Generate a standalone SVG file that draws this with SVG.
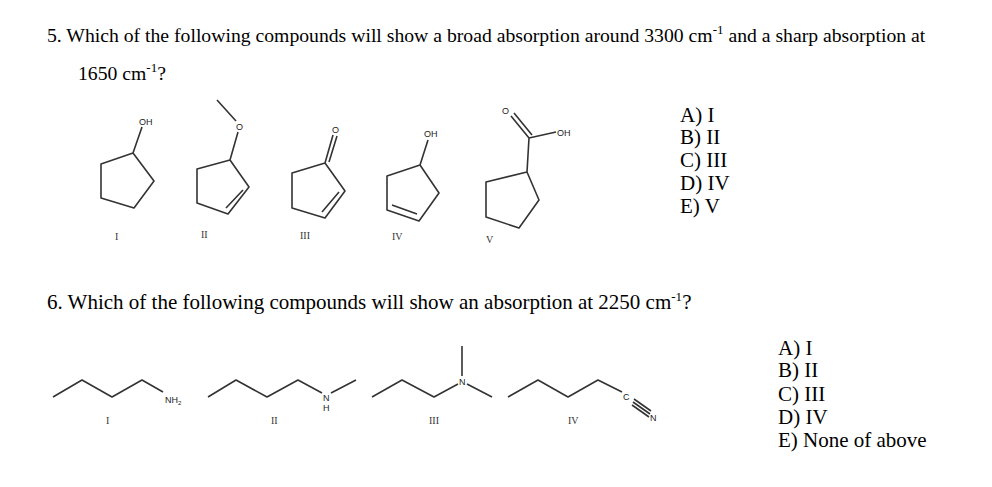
<svg xmlns="http://www.w3.org/2000/svg" width="992" height="487" viewBox="0 0 992 487">
<style>
.q{font-family:"Liberation Serif",serif;font-size:19.7px;fill:#000}
.r{font-family:"Liberation Serif",serif;font-size:21px;fill:#000}
.s{font-family:"Liberation Serif",serif;font-size:13px}
.l{font-family:"Liberation Serif",serif;font-size:10px;fill:#333}
.a{font-family:"Liberation Sans",sans-serif;font-size:9px;fill:#222}
.b{fill:none;stroke:#333;stroke-width:1.6;stroke-linejoin:round}
</style>
<rect width="992" height="487" fill="#fff"/>
<text class="q" x="47" y="42">5. Which of the following compounds will show a broad absorption around 3300 cm<tspan class="s" dy="-8">-1</tspan><tspan dy="8"> and a sharp absorption at</tspan></text>
<text class="q" x="78" y="80">1650 cm<tspan class="s" dy="-8">-1</tspan><tspan dy="8">?</tspan></text>
<g class="r"><text x="680" y="122">A) I</text><text x="680" y="144">B) II</text><text x="680" y="167">C) III</text><text x="680" y="190">D) IV</text><text x="680" y="213">E) V</text></g>
<g id="m5-1"><path class="b" d="M133,153 L154,181 L134,208 L101,198 L101,164 Z M133,153 L142,127"/><text class="a" x="139" y="125">OH</text><text class="l" x="115" y="240">I</text></g>
<g id="m5-2"><path class="b" d="M230,160 L249,187 L228,214 L197,203 L197,169 Z M243,190 L226,208 M230,160 L238,132 M236,121 L217,100"/><text class="a" x="236" y="130">O</text><text class="l" x="201" y="238">II</text></g>
<g id="m5-3"><path class="b" d="M325,163 L345,191 L325,218 L292,208 L292,173 Z M339,192 L322,212 M325,163 L333,135 M329,162 L337,136"/><text class="a" x="332" y="133">O</text><text class="l" x="300" y="239">III</text></g>
<g id="m5-4"><path class="b" d="M420,165 L439,193 L419,221 L387,210 L387,176 Z M392,205 L417,214 M420,165 L428,140"/><text class="a" x="424" y="137">OH</text><text class="l" x="392" y="240">IV</text></g>
<g id="m5-5"><path class="b" d="M527,172 L539,200 L519,228 L486,217 L486,182 Z M527,172 L529,138 M529,138 L511,116 M532,135 L514,113 M529,138 L556,132"/><text class="a" x="502" y="114">O</text><text class="a" x="557" y="136">OH</text><text class="l" x="486" y="243">V</text></g>
<text class="r" x="47" y="309" font-size="21.5">6. Which of the following compounds will show an absorption at 2250 cm<tspan class="s" dy="-8">-1</tspan><tspan dy="8">?</tspan></text>
<g class="r"><text x="778" y="355">A) I</text><text x="778" y="377">B) II</text><text x="778" y="401">C) III</text><text x="778" y="424">D) IV</text><text x="778" y="447">E) None of above</text></g>
<g id="m6-1"><path class="b" d="M53,397 L82,380 L112,397 L142,380 L163,392"/><text class="a" x="165" y="403">NH<tspan font-size="6" dy="2">2</tspan></text><text class="l" x="106" y="424">I</text></g>
<g id="m6-2"><path class="b" d="M208,397 L236,380 L267,397 L298,380 L322,393 M331,393 L356,380"/><text class="a" x="323" y="401">N</text><text class="a" x="323" y="411">H</text><text class="l" x="271" y="424">II</text></g>
<g id="m6-3"><path class="b" d="M372,397 L402,380 L434,397 L458,384 M462,376 L462,346 M467,384 L492,397"/><text class="a" x="459" y="385">N</text><text class="l" x="429" y="424">III</text></g>
<g id="m6-4"><path class="b" d="M508,397 L538,380 L568,397 L598,380 L622,392 M633,402 L650,414 M634,399 L651,411 M632,405 L649,417"/><text class="a" x="623" y="400">C</text><text class="a" x="650" y="421">N</text><text class="l" x="568" y="424">IV</text></g>
</svg>
